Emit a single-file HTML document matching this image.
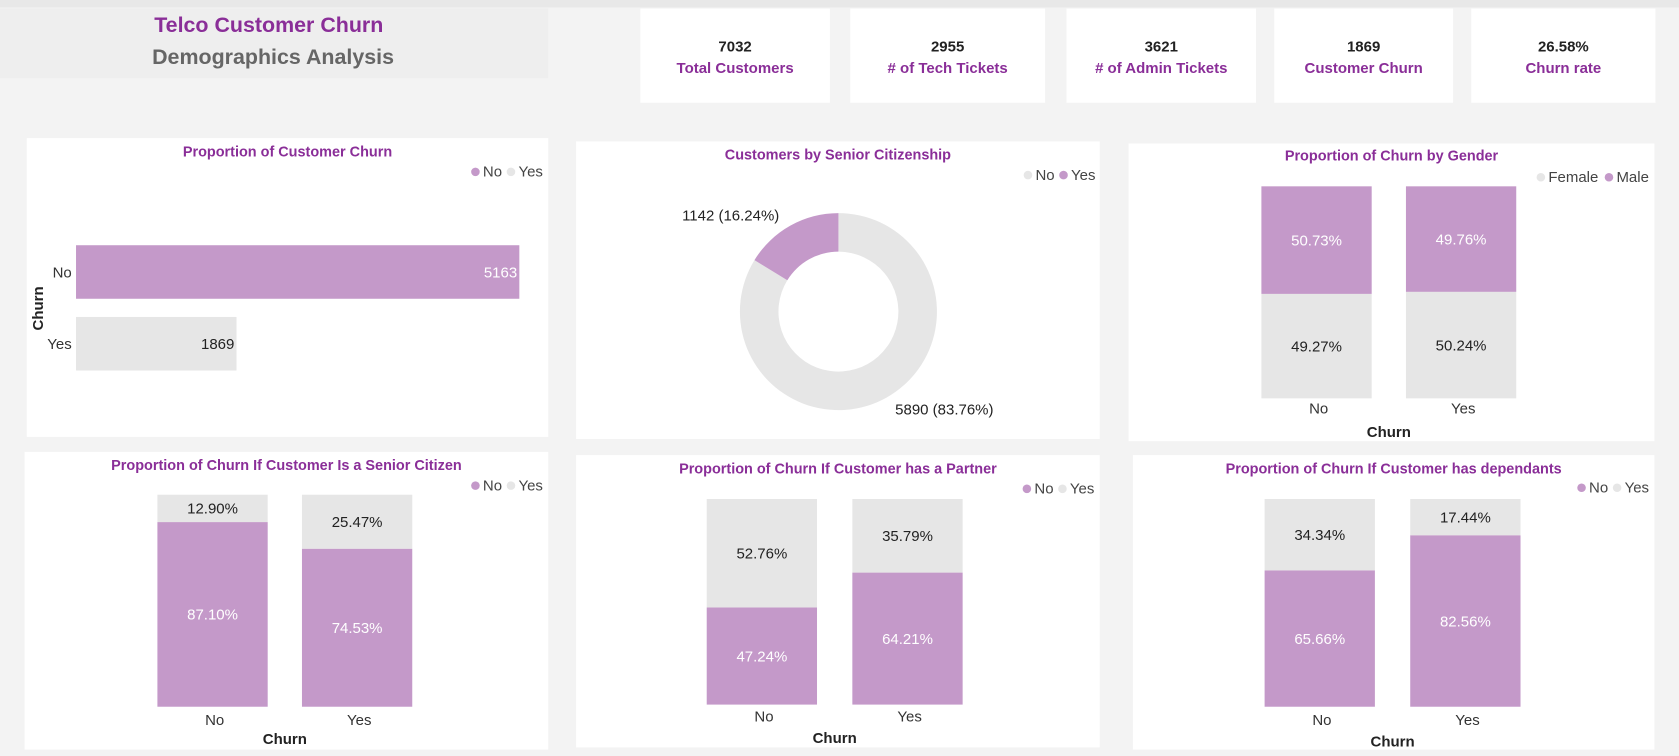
<!DOCTYPE html>
<html><head><meta charset="utf-8"><style>
html,body{margin:0;padding:0;background:#f3f3f3;overflow:hidden}
svg{display:block}
text{font-family:"Liberation Sans",sans-serif}
</style></head><body>
<svg id="dash" width="1679" height="756" viewBox="0 0 1568 706" xmlns="http://www.w3.org/2000/svg">
<rect x="0" y="0" width="1568" height="706" fill="#f3f3f3"/>
<rect x="0" y="0" width="1568" height="7" fill="#e8e8e8"/>
<g>
<rect x="0" y="8" width="512" height="65" fill="#eeeeee"/>
<text x="251" y="30" text-anchor="middle" font-size="20" font-weight="bold" fill="#8a2e98">Telco Customer Churn</text>
<text x="255" y="60" text-anchor="middle" font-size="20" font-weight="bold" fill="#666666">Demographics Analysis</text>
</g>
<g id="kpis"></g>
<g id="charts"></g>
</svg>
<script>
const NS="http://www.w3.org/2000/svg";
const PURPLE="#c499c9", GRAY="#e6e6e6", TITLE="#8a2e98";
// KPI data
const kpiValues=["7032","2955","3621","1869","26.58%"];
const kpiLabels=["Total Customers","# of Tech Tickets","# of Admin Tickets","Customer Churn","Churn rate"];
// Chart 1: horizontal bar
const c1Categories=["No","Yes"];
const c1Values=[5163,1869];
// Chart 2: donut
const c2Categories=["No","Yes"];
const c2Values=[5890,1142];
const c2Labels=["5890 (83.76%)","1142 (16.24%)"];
// Chart 3: gender
const c3Categories=["No","Yes"];
const c3Female=[49.27,50.24];
const c3Male=[50.73,49.76];
// Chart 4: senior
const c4Categories=["No","Yes"];
const c4No=[87.10,74.53];
const c4Yes=[12.90,25.47];
// Chart 5: partner
const c5Categories=["No","Yes"];
const c5No=[47.24,64.21];
const c5Yes=[52.76,35.79];
// Chart 6: dependants
const c6Categories=["No","Yes"];
const c6No=[65.66,82.56];
const c6Yes=[34.34,17.44];

function el(tag,attrs,parent,txt){const e=document.createElementNS(NS,tag);for(const k in attrs)e.setAttribute(k,attrs[k]);if(txt!==undefined)e.textContent=txt;parent.appendChild(e);return e;}

const kg=document.getElementById('kpis');
const kpiBoxes=[[598,775],[794,976],[996,1173],[1190,1357],[1374,1546]];
kpiValues.forEach((v,i)=>{
  const g=el('g',{},kg);
  
  
  const [a,b]=kpiBoxes[i];
  el('rect',{x:a,y:8,width:b-a,height:88,fill:'#fff'},g);
  const t1=el('text',{x:(a+b)/2,y:48,'text-anchor':'middle','font-size':14,'font-weight':'bold',fill:'#222'},g,v);
  
  
  const t2=el('text',{x:(a+b)/2,y:68,'text-anchor':'middle','font-size':14,'font-weight':'bold',fill:TITLE},g,kpiLabels[i]);
  
  
});

const cg=document.getElementById('charts');
function panel(name,x0,y0,x1,y1,title,ty){
  const g=el('g',{},cg);
  
  
  el('rect',{x:x0,y:y0,width:x1-x0,height:y1-y0,fill:'#fff'},g);
  const t=el('text',{x:(x0+x1)/2,y:ty,'text-anchor':'middle','font-size':13.5,'font-weight':'bold',fill:TITLE},g,title);
  
  
  return g;
}
function legend(g,xr,y,items){
  // items: [label,color], right-aligned ending at xr
  let widths=items.map(it=>12+it[0].length*7.6+6);
  let x=xr-widths.reduce((a,b)=>a+b,0)+6;
  items.forEach((it,i)=>{
    const lg=el('g',{},g);
    
    
    el('circle',{cx:x+4,cy:y-4.5,r:4,fill:it[1]},lg);
    el('text',{x:x+11,y:y,'font-size':14,fill:'#444'},lg,it[0]);
    x+=widths[i];
  });
}
// Chart 1
(function(){
  const g=panel('churn-proportion-chart',25,129,512,408,'Proportion of Customer Churn',146);
  legend(g,508,165,[["No",PURPLE],["Yes",GRAY]]);
  const x0=71, W=414, max=Math.max(...c1Values);
  const xs=v=>v/max*W;
  const ys=[229,296], h=50, cols=[PURPLE,GRAY], tc=['#fff','#222'];
  c1Values.forEach((v,i)=>{
    const r=el('rect',{x:x0,y:ys[i],width:xs(v),height:h,fill:cols[i]},g);
    
    
    el('text',{x:x0+xs(v)-2,y:ys[i]+h/2+5,'text-anchor':'end','font-size':14,fill:tc[i]},g,String(v));
    el('text',{x:67,y:ys[i]+h/2+5,'text-anchor':'end','font-size':14,fill:'#333'},g,c1Categories[i]);
  });
  const at=el('text',{x:0,y:0,'text-anchor':'middle','font-size':14,'font-weight':'bold',fill:'#222',transform:'translate(40,288) rotate(-90)'},g,'Churn');
  
  
})();
// Chart 2 donut
(function(){
  const g=panel('senior-citizenship-donut',538,132,1027,410,'Customers by Senior Citizenship',149);
  legend(g,1024,168,[["No",GRAY],["Yes",PURPLE]]);
  const cx=783,cy=291,R=92,r=56,total=c2Values.reduce((a,b)=>a+b,0);
  const cols=[GRAY,PURPLE];
  let a=0;
  c2Values.forEach((v,i)=>{
    const a1=a, a2=a+v/total*2*Math.PI; a=a2;
    const p=(ang,rad)=>[cx+rad*Math.sin(ang),cy-rad*Math.cos(ang)];
    const large=(a2-a1)>Math.PI?1:0;
    const [x1,y1]=p(a1,R),[x2,y2]=p(a2,R),[x3,y3]=p(a2,r),[x4,y4]=p(a1,r);
    const s=el('path',{d:`M${x1},${y1} A${R},${R} 0 ${large} 1 ${x2},${y2} L${x3},${y3} A${r},${r} 0 ${large} 0 ${x4},${y4} Z`,fill:cols[i]},g);
    
    
  });
  el('text',{x:637,y:206,'font-size':14,fill:'#222'},g,c2Labels[1]);
  el('text',{x:836,y:387,'font-size':14,fill:'#222'},g,c2Labels[0]);
})();
// stacked columns
function stacked(name,box,title,ty,legY,legItems,cats,bottom,top,botCol,topCol,bx,yTop,yBot,xlY,atY){
  const g=panel(name,box[0],box[1],box[2],box[3],title,ty);
  legend(g,box[2]-4,legY,legItems);
  const H=yBot-yTop, bw=103;
  const ys=v=>v/100*H;
  cats.forEach((c,i)=>{
    const b=bottom[i], t=top[i], sum=b+t;
    const hb=ys(b/sum*100), ht=H-hb;
    const r1=el('rect',{x:bx[i],y:yBot-hb,width:bw,height:hb,fill:botCol},g);
    
    
    const r2=el('rect',{x:bx[i],y:yTop,width:bw,height:ht,fill:topCol},g);
    
    
    const cb=botCol===PURPLE?'#fff':'#222', ct=topCol===PURPLE?'#fff':'#222';
    el('text',{x:bx[i]+bw/2,y:yBot-hb/2+5,'text-anchor':'middle','font-size':14,fill:cb},g,b.toFixed(2)+'%');
    el('text',{x:bx[i]+bw/2,y:yTop+ht/2+5,'text-anchor':'middle','font-size':14,fill:ct},g,t.toFixed(2)+'%');
    el('text',{x:bx[i]+bw/2+2,y:xlY,'text-anchor':'middle','font-size':14,fill:'#333'},g,c);
  });
  const at=el('text',{x:(bx[0]+bx[1]+bw)/2,y:atY,'text-anchor':'middle','font-size':14,'font-weight':'bold',fill:'#222'},g,'Churn');
  
  
}
stacked('gender-churn-chart',[1054,134,1545,412],'Proportion of Churn by Gender',150,170,[["Female",GRAY],["Male",PURPLE]],c3Categories,c3Female,c3Male,GRAY,PURPLE,[1178,1313],174,372,386,408);
stacked('senior-churn-chart',[23,422,512,700],'Proportion of Churn If Customer Is a Senior Citizen',439,458,[["No",PURPLE],["Yes",GRAY]],c4Categories,c4No,c4Yes,PURPLE,GRAY,[147,282],462,660,677,695);
stacked('partner-churn-chart',[538,425,1027,698],'Proportion of Churn If Customer has a Partner',442,461,[["No",PURPLE],["Yes",GRAY]],c5Categories,c5No,c5Yes,PURPLE,GRAY,[660,796],466,658,674,694);
stacked('dependants-churn-chart',[1058,425,1545,700],'Proportion of Churn If Customer has dependants',442,460,[["No",PURPLE],["Yes",GRAY]],c6Categories,c6No,c6Yes,PURPLE,GRAY,[1181,1317],466,660,677,697);
</script>
</body></html>
